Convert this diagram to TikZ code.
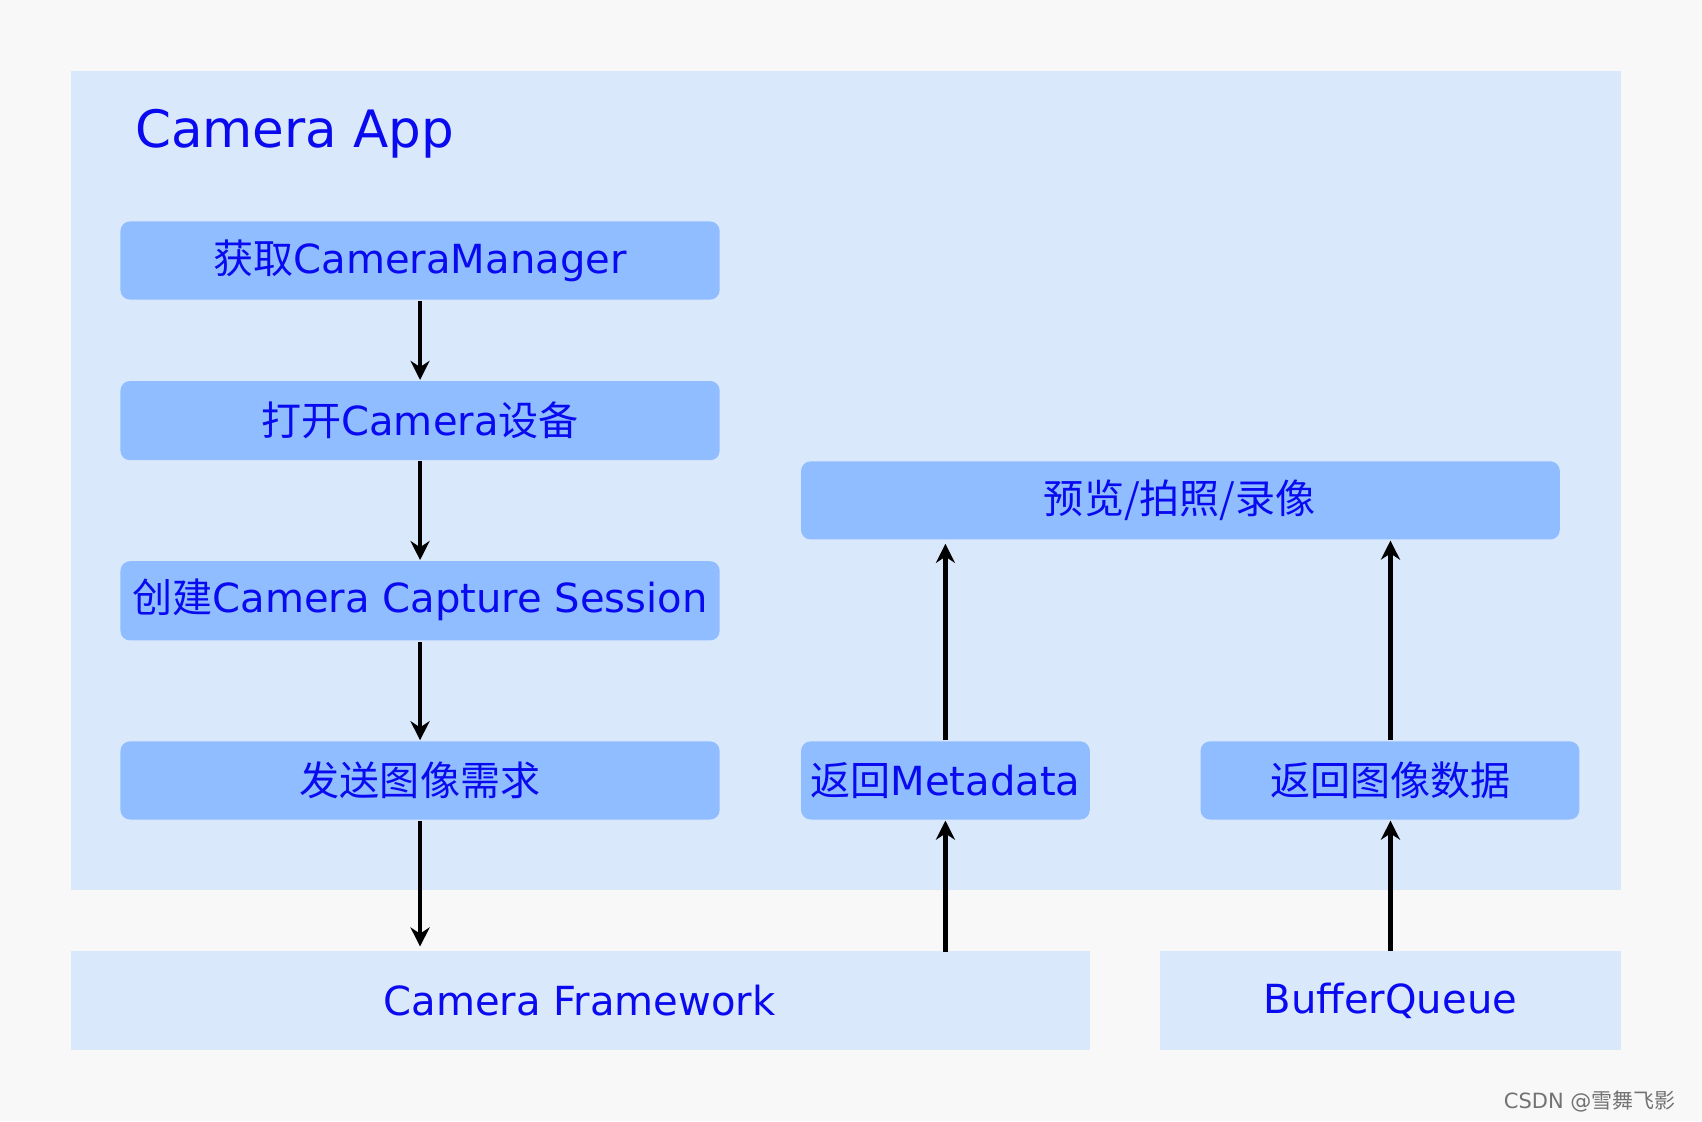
\documentclass[tikz,border=0pt]{standalone}
\usepackage{fontspec}
\usetikzlibrary{arrows.meta}
\setmainfont{DejaVu Sans}
\newfontfamily\cjk{Noto Sans CJK SC}
\begin{document}
\begin{tikzpicture}[x=0.01cm,y=-0.01cm,
  panel/.style={fill=panelc,draw=none},
  box/.style={fill=boxc,draw=none,rounded corners=2.5pt},
  lbl/.style={text=txtc,font=\fontsize{10.5}{12}\selectfont},
  arr/.style={-{Stealth[length=5pt,width=5pt]},line width=1.2pt}]
\definecolor{panelc}{HTML}{DAE8FC}
\definecolor{boxc}{HTML}{8FBDFF}
\definecolor{txtc}{HTML}{0A0AF0}
\definecolor{bgc}{HTML}{F8F8F8}
\useasboundingbox (0,0) rectangle (1568,1033);
\fill[bgc] (0,0) rectangle (1568,1033);
\fill[panelc] (65,65) rectangle (1493,820);
\node[anchor=west,text=txtc,font=\fontsize{13.5}{15}\selectfont] (title) at (112,123) {Camera App};
\fill[box] (111,204) rectangle (663,276); \node[lbl] (b1) at (387,240) {{\cjk 获取}CameraManager};
\fill[box] (111,351) rectangle (663,424); \node[lbl] (b2) at (387,387) {{\cjk 打开}Camera{\cjk 设备}};
\fill[box] (111,517) rectangle (663,590); \node[lbl] (b3) at (387,553) {{\cjk 创建}Camera Capture Session};
\fill[box] (111,683) rectangle (663,755); \node[lbl] (b4) at (387,719) {\cjk 发送图像需求};
\fill[box] (738,425) rectangle (1437,497); \node[lbl] (p) at (1087,461) {\cjk 预览/拍照/录像};
\fill[box] (738,683) rectangle (1004,755); \node[lbl] (m) at (871,719) {{\cjk 返回}Metadata};
\fill[box] (1106,683) rectangle (1455,755); \node[lbl] (d) at (1281,719) {\cjk 返回图像数据};
\fill[panelc] (65,876) rectangle (1004,967); \node[lbl] (fw) at (534,922) {Camera Framework};
\fill[panelc] (1069,876) rectangle (1493,967); \node[lbl] (bq) at (1281,922) {BufferQueue};
\coordinate (a1s) at (387,277); \coordinate (a1e) at (387,350);
\coordinate (a2s) at (387,425); \coordinate (a2e) at (387,516);
\coordinate (a3s) at (387,591); \coordinate (a3e) at (387,682);
\coordinate (a4s) at (387,756); \coordinate (a4e) at (387,872);
\coordinate (m1s) at (871,877); \coordinate (m1e) at (871,756);
\coordinate (m2s) at (871,682); \coordinate (m2e) at (871,501);
\coordinate (d1s) at (1281,876); \coordinate (d1e) at (1281,756);
\coordinate (d2s) at (1281,682); \coordinate (d2e) at (1281,498);
\foreach \s/\e in {a1s/a1e,a2s/a2e,a3s/a3e,a4s/a4e,m1s/m1e,m2s/m2e,d1s/d1e,d2s/d2e}
  \draw[arr] (\s) -- (\e);
\node[anchor=east,text=black!55,font=\fontsize{5.5}{6}\selectfont] (wm) at (1556,1015) {CSDN @{\cjk 雪舞飞影}};
\end{tikzpicture}
\end{document}
